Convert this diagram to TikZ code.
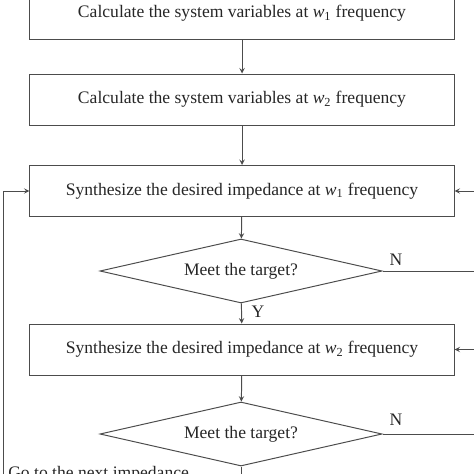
\documentclass[tikz,border=0pt]{standalone}
\usepackage{fontspec}
\setmainfont{Liberation Serif}
\usepackage{tikz}
\usetikzlibrary{shapes.geometric}

\tikzset{
  stepbox/.style={rectangle, draw=black!70, line width=0.7pt, minimum width=10.6cm, minimum height=1.275cm, inner sep=0pt},
  check/.style={diamond, draw=black!70, line width=0.7pt, minimum width=7.05cm, minimum height=1.6cm, aspect=4.4, inner sep=0pt},
  link/.style={draw=black!70, line width=0.7pt},
}
\newcommand{\wf}[1]{\textit{w}\textsubscript{#1}}

\begin{document}
\begin{tikzpicture}[x=0.025cm, y=-0.025cm, >=stealth, font=\fontsize{12.5}{14}\selectfont, text=black!85]
\useasboundingbox (0,0) rectangle (474,474);

\node[stepbox] (varA) at (242,13.5) {Calculate the system variables at \wf{1} frequency};
\node[stepbox] (varB) at (242,99.5) {Calculate the system variables at \wf{2} frequency};
\node[stepbox] (synA) at (242,191) {Synthesize the desired impedance at \wf{1} frequency};
\node[check] (chkA) at (241,271) {Meet the target?};
\node[stepbox] (synB) at (242,349.5) {Synthesize the desired impedance at \wf{2} frequency};
\node[check] (chkB) at (241,434) {Meet the target?};

\coordinate (rA) at (490,271);
\coordinate (rB) at (490,434);
\coordinate (down) at (241,500);
\coordinate (back) at (3,500);

\draw[link,->] (varA) -- (varB);
\draw[link,->] (varB) -- (synA);
\draw[link,->] (synA) -- (chkA);
\draw[link,->] (chkA) -- (synB);
\draw[link,->] (synB) -- (chkB);
\draw[link] (chkB) -- (down);
\draw[link] (chkA.east) -- (rA);
\draw[link,->] (rA) |- (synA.east);
\draw[link] (chkB.east) -- (rB);
\draw[link,->] (rB) |- (synB.east);
\draw[link,->] (back) |- (synA.west);

\node at (396,260) {N};
\node at (396,420) {N};
\node at (258,312) {Y};
\node at (258,482) {Y};
\node[anchor=north west, inner sep=0pt] at (8,466) {Go to the next impedance};
\end{tikzpicture}
\end{document}
